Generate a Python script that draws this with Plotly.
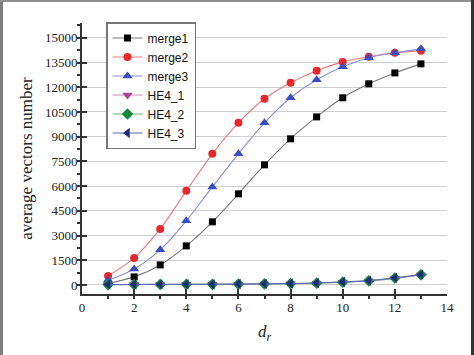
import plotly.graph_objects as go

x_vals = list(range(1, 14))
merge1 = [100, 490, 1215, 2370, 3830, 5530, 7290, 8870, 10200, 11360, 12210, 12870, 13420]
merge2 = [550, 1640, 3400, 5710, 7960, 9840, 11300, 12270, 13000, 13540, 13850, 14090, 14210]
merge3 = [280, 970, 2130, 3890, 5950, 7960, 9840, 11360, 12450, 13240, 13790, 14090, 14330]
he4_1 = [15, 20, 25, 30, 35, 45, 55, 75, 105, 160, 240, 400, 600]
he4_2 = [20, 25, 30, 35, 40, 50, 60, 80, 110, 170, 250, 420, 615]
he4_3 = [25, 30, 35, 40, 45, 55, 65, 85, 115, 180, 260, 430, 625]

y_ticks = list(range(0, 15001, 1500))
x_ticks = list(range(0, 15, 2))

series = [
    ("merge1", merge1, "square", "#000000", "#7a7a7a", 7),
    ("merge2", merge2, "circle", "#e8282c", "#f07a7a", 8),
    ("merge3", merge3, "triangle-up", "#3b4cc0", "#8a90d8", 9),
    ("HE4_1", he4_1, "triangle-down", "#b0409c", "#cc88c0", 9),
    ("HE4_2", he4_2, "diamond", "#168a3c", "#70b080", 9),
    ("HE4_3", he4_3, "triangle-left", "#1f2d7a", "#5a66b0", 9),
]

fig = go.Figure()
for name, ys, sym, mc, lc, ms in series:
    fig.add_trace(go.Scatter(
        x=x_vals, y=ys, name=name, mode="lines+markers",
        line=dict(color=lc, width=1.1, shape="spline"),
        marker=dict(symbol=sym, color=mc, size=ms, line=dict(width=0)),
    ))

serif = "Liberation Serif"
L, R, T, B = 82, 27, 23, 61
W, H = 474, 355
pw, ph = W - L - R, H - T - B

def px(xp):
    return (xp - L) / pw

def py(yp):
    return (H - B - yp) / ph

fig.update_layout(
    width=W, height=H,
    margin=dict(l=L, r=R, t=T, b=B, autoexpand=False),
    paper_bgcolor="white", plot_bgcolor="white",
    showlegend=True,
    legend=dict(
        x=px(106), y=py(22), xanchor="left", yanchor="top",
        bordercolor="#777777", borderwidth=1.5, bgcolor="white",
        font=dict(family="Liberation Sans", size=12, color="#111111"),
        tracegroupgap=0, itemwidth=30,
    ),
    xaxis=dict(
        range=[0, 14], tickvals=x_ticks, ticktext=[str(v) for v in x_ticks],
        showgrid=False, zeroline=False, automargin=False,
        showline=True, linecolor="#333333", linewidth=2,
        ticks="inside", ticklen=5, tickwidth=1.5, tickcolor="#333333",
        minor=dict(dtick=1, ticks="outside", ticklen=3, tickcolor="#333333", showgrid=False),
        tickfont=dict(family=serif, size=13, color="#222222"),
        title=dict(text="<i>d</i><sub><i>r</i></sub>", font=dict(family=serif, size=17, color="#222222"), standoff=12),
    ),
    yaxis=dict(
        range=[-550, 15900], tickvals=y_ticks, ticktext=[str(v) for v in y_ticks],
        showgrid=True, gridcolor="#cfcfcf", gridwidth=1.2, zeroline=False, automargin=False,
        showline=True, linecolor="#333333", linewidth=2,
        ticks="inside", ticklen=5, tickwidth=1.5, tickcolor="#333333",
        minor=dict(dtick=750, tick0=0, ticks="outside", ticklen=3, tickcolor="#333333", showgrid=False),
        tickfont=dict(family=serif, size=13, color="#222222"),
        title=dict(text="average vectors number", font=dict(family=serif, size=17, color="#222222"), standoff=8),
    ),
    shapes=[
        dict(type="rect", xref="paper", yref="paper", x0=px(0), x1=px(3), y0=py(H), y1=py(0),
             fillcolor="#7d7d7d", line=dict(width=0), layer="above"),
        dict(type="rect", xref="paper", yref="paper", x0=px(0), x1=px(W), y0=py(2), y1=py(0),
             fillcolor="#8f8f8f", line=dict(width=0), layer="above"),
        dict(type="rect", xref="paper", yref="paper", x0=px(471), x1=px(W), y0=py(H), y1=py(0),
             fillcolor="#333333", line=dict(width=0), layer="above"),
    ],
)

fig.write_html(
    "out.html",
    config={"displayModeBar": False},
    post_script="document.body.style.margin='0';document.body.style.overflow='hidden';",
)
